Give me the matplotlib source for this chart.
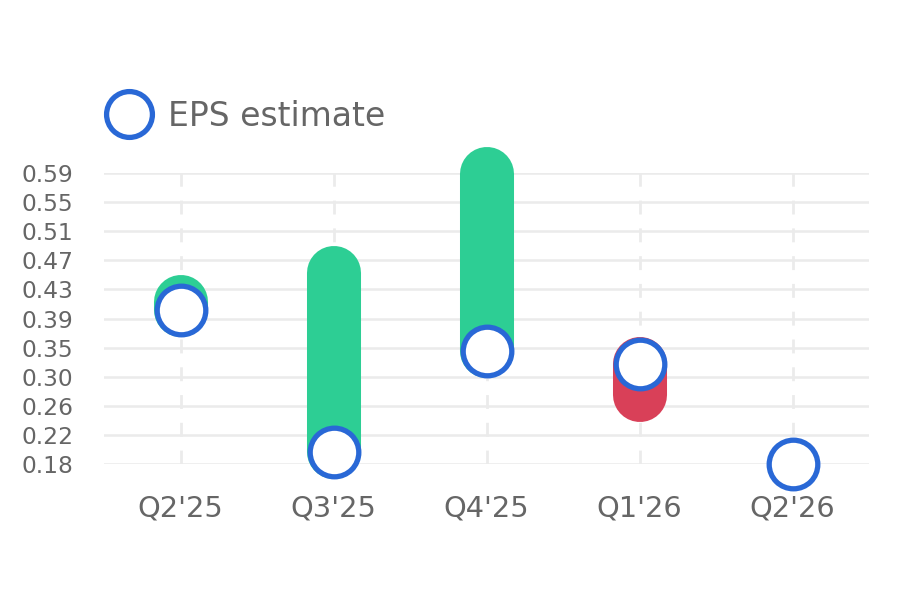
import numpy as np
import matplotlib.pyplot as plt
from matplotlib.lines import Line2D

# EPS data
quarters = ["Q2'25", "Q3'25", "Q4'25", "Q1'26", "Q2'26"]
estimate = [0.397, 0.197, 0.339, 0.321, 0.180]
actual = [0.408, 0.449, 0.589, 0.277, None]
ytick_labels = ["0.18", "0.22", "0.26", "0.30", "0.35", "0.39",
                "0.43", "0.47", "0.51", "0.55", "0.59"]

green = "#2dce94"
red = "#d94058"
blue = "#2968d6"
grey_text = "#666666"
grid_col = "#ebebeb"

fig = plt.figure(figsize=(9, 6), dpi=100)
ax = fig.add_axes([104 / 900, 136 / 600, 765 / 900, 291 / 600])

x = np.arange(len(quarters))

# vertical dashed guides
for xi in x:
    ax.axvline(xi, color=grid_col, lw=2, ls=(0, (5, 5)), zorder=0)

# horizontal grid
yticks = np.linspace(0.18, 0.59, len(ytick_labels))
for yv in yticks:
    ax.axhline(yv, color=grid_col, lw=1.8, zorder=0)

# bars from estimate to actual
for xi, e, a in zip(x, estimate, actual):
    if a is None:
        continue
    col = green if a >= e else red
    ax.plot([xi, xi], [e, a], color=col, lw=38.9, solid_capstyle="round",
            zorder=2, clip_on=False)

# estimate markers
ax.plot(x, estimate, ls="none", marker="o", ms=35, mew=3.8,
        mfc="white", mec=blue, zorder=3, clip_on=False)

ax.set_xlim(-0.5, len(quarters) - 0.5)
ax.set_ylim(0.18, 0.59)
ax.set_xticks(x)
ax.set_xticklabels(quarters, fontsize=20.8, color=grey_text)
ax.set_yticks(yticks)
ax.set_yticklabels(ytick_labels, fontsize=16.8, color=grey_text)
ax.tick_params(axis="both", length=0)
ax.tick_params(axis="y", pad=22)
ax.tick_params(axis="x", pad=22)
for s in ax.spines.values():
    s.set_visible(False)

handle = Line2D([], [], ls="none", marker="o", ms=33, mew=3.8,
                mfc="white", mec=blue)
leg = fig.legend([handle], ["EPS estimate"], loc="center left",
                 bbox_to_anchor=(104 / 900, 1 - 116 / 600), frameon=False,
                 fontsize=23.8, handlelength=1.5, handletextpad=0.45,
                 borderpad=0, borderaxespad=0)
for t in leg.get_texts():
    t.set_color(grey_text)

fig.savefig("out.png", dpi=100)
